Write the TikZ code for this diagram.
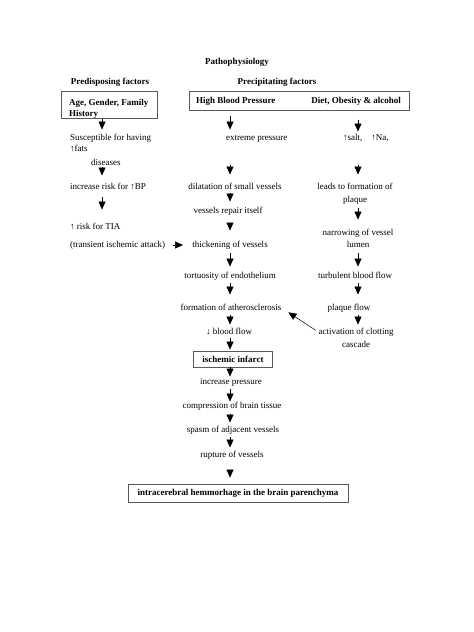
\documentclass[tikz,border=0pt]{standalone}
\usepackage{fontspec}
\setmainfont{Liberation Serif}
\usetikzlibrary{arrows.meta}

\begin{document}
\begin{tikzpicture}[x=1pt,y=-1pt]
    \tikzstyle{lbl}=[inner sep=0pt,text height=6.5pt,text depth=2pt,font=\fontsize{9}{11}\selectfont]
    \tikzstyle{hd}=[lbl,font=\fontsize{9}{11}\selectfont\bfseries]
    \tikzstyle{box}=[draw=black!65,line width=0.8pt,inner sep=0pt,font=\fontsize{9}{11}\selectfont\bfseries]
    \tikzstyle{flow}=[-{Triangle[width=7pt,length=8pt]},line width=0.5pt]
    \useasboundingbox (0,0) rectangle (474,632);
    \coordinate (lcol) at (102,0);
    \coordinate (mcol) at (230,0);
    \coordinate (rcol) at (358,0);
    % headings
    \node[hd] (title) at (237,62) {Pathophysiology};
    \node[hd] (predis) at (110,82) {Predisposing factors};
    \node[hd] (precip) at (277,82) {Precipitating factors};
    \node[box,minimum width=96pt,minimum height=27pt,anchor=north west] (agebox) at (61,91) {};
    \node[hd,anchor=west] (age1) at (69,103) {Age, Gender, Family};
    \node[hd,anchor=west] (age2) at (69,114) {History};
    \node[box,minimum width=220pt,minimum height=19pt,anchor=north west] (riskbox) at (189,91) {};
    \node[hd,anchor=west] (hbp) at (196,101) {High Blood Pressure};
    \node[hd,anchor=east] (diet) at (401,101) {Diet, Obesity \& alcohol};
    % predisposing column
    \node[lbl,anchor=west] (sus) at (70,138) {Susceptible for having};
    \node[lbl,anchor=west] (fats) at (70,149) {↑fats};
    \node[lbl,anchor=west] (dis) at (91,163) {diseases};
    \node[lbl,anchor=west] (incr) at (70,187) {increase risk for ↑BP};
    \node[lbl,anchor=west] (tia) at (70,227) {↑ risk for TIA};
    \node[lbl,anchor=west] (trans) at (70,245) {(transient ischemic attack)};
    % high blood pressure column
    \node[lbl,anchor=west] (ext) at (226,138) {extreme pressure};
    \node[lbl] (dil) at (235,187) {dilatation of small vessels};
    \node[lbl] (rep) at (228,211) {vessels repair itself};
    \node[lbl] (thick) at (230,245) {thickening of vessels};
    \node[lbl] (tort) at (230,276) {tortuosity of endothelium};
    \node[lbl] (ath) at (231,308) {formation of atherosclerosis};
    \node[lbl,anchor=west] (bflow) at (206,332) {↓ blood flow};
    \node[box,minimum width=79pt,minimum height=16pt] (infarct) at (233,359) {ischemic infarct};
    \node[lbl] (incp) at (231,382) {increase pressure};
    \node[lbl] (comp) at (232,406) {compression of brain tissue};
    \node[lbl] (spasm) at (233,430) {spasm of adjacent vessels};
    \node[lbl] (rupt) at (232,455) {rupture of vessels};
    \node[box,minimum width=220pt,minimum height=18pt] (ich) at (238,493) {intracerebral hemmorhage in the brain parenchyma};
    % diet column
    \node[lbl,anchor=west] (salt) at (343,138) {↑salt,\quad ↑Na,};
    \node[lbl] (leads1) at (355,187) {leads to formation of};
    \node[lbl] (leads2) at (355,200) {plaque};
    \node[lbl] (narr1) at (358,233) {narrowing of vessel};
    \node[lbl] (narr2) at (358,245) {lumen};
    \node[lbl] (turb) at (355,276) {turbulent blood flow};
    \node[lbl] (pflow) at (349,308) {plaque flow};
    \node[lbl] (clot1) at (356,332) {activation of clotting};
    \node[lbl] (clot2) at (356,345) {cascade};
    % arrows
    \draw[flow,shorten >=4pt] (agebox.south -| lcol) -- (sus.north -| lcol);
    \draw[flow,shorten >=7pt] (dis.south -| lcol) -- (incr.north -| lcol);
    \draw[flow,shorten <=6pt,shorten >=13pt] (incr.south -| lcol) -- (tia.north -| lcol);
    \draw[flow,shorten <=8pt,shorten >=9pt] (trans.east) -- (thick.west);
    \draw[flow,shorten <=5pt,shorten >=4pt] (riskbox.south -| mcol) -- (ext.north -| mcol);
    \draw[flow,shorten <=23pt,shorten >=8pt] (ext.south -| mcol) -- (dil.north -| mcol);
    \draw[flow,shorten <=2pt,shorten >=5pt] (dil.south -| mcol) -- (rep.north -| mcol);
    \draw[flow,shorten <=8pt,shorten >=10pt] (rep.south -| mcol) -- (thick.north -| mcol);
    \draw[flow,shorten <=4pt,shorten >=5pt] (thick.south -| mcol) -- (tort.north -| mcol);
    \draw[flow,shorten <=3pt,shorten >=9pt] (tort.south -| mcol) -- (ath.north -| mcol);
    \draw[flow,shorten <=3pt,shorten >=3pt] (ath.south -| mcol) -- (bflow.north -| mcol);
    \draw[flow,shorten <=2pt,shorten >=1pt] (bflow.south -| mcol) -- (infarct.north -| mcol);
    \draw[flow,shorten >=1pt] (infarct.south -| mcol) -- (incp.north -| mcol);
    \draw[flow,shorten <=3pt] (incp.south -| mcol) -- (comp.north -| mcol);
    \draw[flow,shorten <=4pt,shorten >=3pt] (comp.south -| mcol) -- (spasm.north -| mcol);
    \draw[flow,shorten <=3pt,shorten >=3pt] (spasm.south -| mcol) -- (rupt.north -| mcol);
    \draw[flow,shorten <=11pt,shorten >=6pt] (rupt.south -| mcol) -- (ich.north -| mcol);
    \draw[flow,shorten <=9pt,shorten >=2pt] (riskbox.south -| rcol) -- (salt.north -| rcol);
    \draw[flow,shorten <=23pt,shorten >=8pt] (salt.south -| rcol) -- (leads1.north -| rcol);
    \draw[flow,shorten <=4pt,shorten >=9pt] (leads2.south -| rcol) -- (narr1.north -| rcol);
    \draw[flow,shorten <=4pt,shorten >=5pt] (narr2.south -| rcol) -- (turb.north -| rcol);
    \draw[flow,shorten <=3pt,shorten >=9pt] (turb.south -| rcol) -- (pflow.north -| rcol);
    \draw[flow,shorten <=3pt,shorten >=3pt] (pflow.south -| rcol) -- (clot1.north -| rcol);
    \draw[flow,shorten <=3pt,shorten >=8pt] (clot1.west) -- (ath.east);
\end{tikzpicture}
\end{document}
